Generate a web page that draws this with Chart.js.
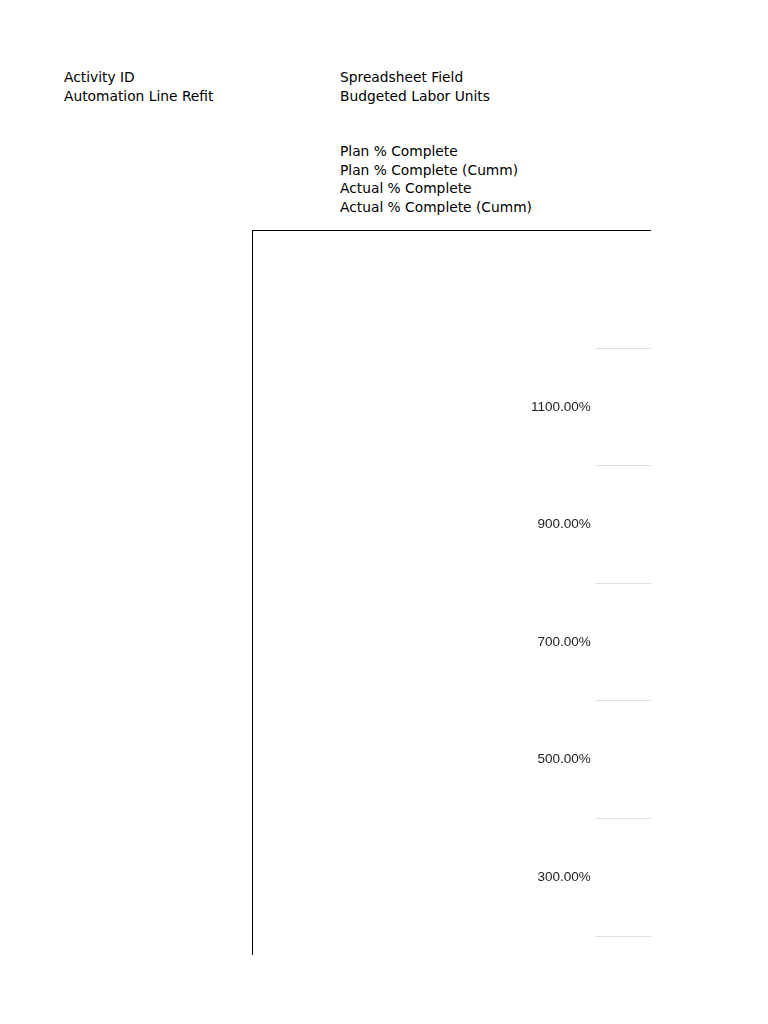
<!DOCTYPE html>
<html>
<head>
<meta charset="utf-8">
<script src="https://cdn.jsdelivr.net/npm/chart.js@4.4.1/dist/chart.umd.min.js"></script>
<style>
  body { margin: 0; background: #fff; width: 768px; height: 1024px; position: relative; overflow: hidden; }
  .txt { position: absolute; font-family: "DejaVu Sans", sans-serif; font-size: 13.8px; line-height: 18.7px; color: #000; white-space: nowrap; }
  #frame { position: absolute; left: 252px; top: 230px; width: 398px; height: 724px; border-left: 1px solid #000; border-top: 1px solid #000; overflow: hidden; }
  #frame canvas { display: block; }
</style>
</head>
<body>
<div class="txt" style="left:64px; top:68px;">Activity ID<br>Automation Line Refit</div>
<div class="txt" style="left:340px; top:68px;">Spreadsheet Field<br>Budgeted Labor Units</div>
<div class="txt" style="left:340px; top:142px;" id="series"></div>
<div id="frame"><canvas id="chart" width="500" height="723"></canvas></div>
<script>
// series named in the sheet header (no marks visible in the printed part)
const seriesNames = ['Plan % Complete', 'Plan % Complete (Cumm)', 'Actual % Complete', 'Actual % Complete (Cumm)'];
const periods = [];
// visible part of the percent axis
const yMin = 200;
const yMax = 1200;
const yStep = 100;

document.getElementById('series').innerHTML = seriesNames.join('<br>');

const ctx = document.getElementById('chart').getContext('2d');
new Chart(ctx, {
  type: 'line',
  data: {
    labels: periods,
    datasets: seriesNames.map(name => ({ label: name, data: [] }))
  },
  options: {
    responsive: false,
    animation: false,
    layout: { padding: { left: 274, top: 117, bottom: 18, right: 0 } },
    plugins: { legend: { display: false }, tooltip: { enabled: false } },
    scales: {
      x: { display: false },
      y: {
        min: yMin,
        max: yMax,
        border: { display: false },
        grid: {
          drawTicks: false,
          color: c => (c.tick && c.tick.value % 200 === 0) ? '#e0e0e0' : 'rgba(0,0,0,0)'
        },
        ticks: {
          stepSize: yStep,
          padding: 4,
          color: '#222',
          font: { size: 13.5 },
          callback: v => (v % 200 === 0) ? '' : v.toFixed(2) + '%'
        }
      }
    }
  }
});
</script>
</body>
</html>
